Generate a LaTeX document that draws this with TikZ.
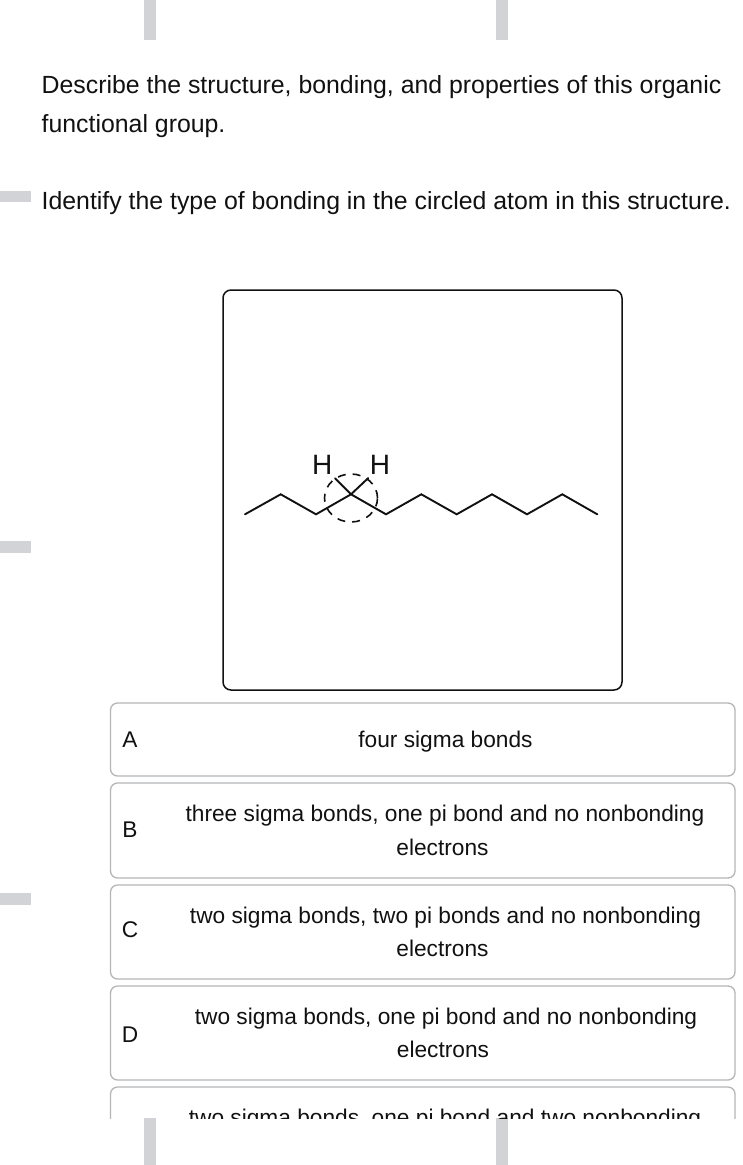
\documentclass[tikz,border=0pt]{standalone}
\usepackage{fontspec}
\usetikzlibrary{shapes.geometric}
\setmainfont{Liberation Sans}
\definecolor{barg}{HTML}{D1D3D6}
\definecolor{optb}{HTML}{B4B6B8}
\definecolor{txt}{HTML}{111111}
\tikzset{
  x=1pt,y=-1pt,
  bar/.style={fill=barg,draw=none},
  qtext/.style={anchor=base west,inner sep=0pt,text=txt,font=\fontsize{24.85}{30}\selectfont},
  opt/.style={draw=optb,line width=1.3pt,rounded corners=7pt},
  otext/.style={anchor=base,inner sep=0pt,text=txt,font=\fontsize{22.7}{26}\selectfont},
  bond/.style={line width=1.9pt,draw=txt,line cap=round,line join=miter},
  atom/.style={inner sep=0pt,text=txt,font=\fontsize{28}{30}\selectfont},
}
\begin{document}
\begin{tikzpicture}
\useasboundingbox (0,0) rectangle (743,1165);
\fill[white] (0,0) rectangle (743,1165);
% side bars
\fill[bar] (144,0) rectangle (156,40);
\fill[bar] (496,0) rectangle (508,40);
\fill[bar] (144,1118) rectangle (156,1165);
\fill[bar] (496,1118) rectangle (508,1165);
\fill[bar] (0,191) rectangle (31,202);
\fill[bar] (0,541) rectangle (31,553);
\fill[bar] (0,893) rectangle (31,905);
% question text
\node[qtext] (q1) at (41.5,93) {Describe the structure, bonding, and properties of this organic};
\node[qtext] (q2) at (41.5,132) {functional group.};
\node[qtext] (q3) at (41.5,209) {Identify the type of bonding in the circled atom in this structure.};
% frame
\draw[line width=1.5pt,draw=txt,rounded corners=8pt] (223,290) rectangle (622,690);
% molecule
\foreach \n/\x/\y in {c1/245/514.3,c2/280.7/494.3,c3/316/514.3,c4/351/494.3,c5/386/514.3,c6/421.3/494.3,c7/456.7/514.3,c8/492/494.3,c9/527/514.3,c10/562.3/494.3,c11/597.3/514.3,h1/335/478.3,h2/368.3/478}
  \coordinate (\n) at (\x,\y);
\draw[bond] (c1)--(c2)--(c3)--(c4)--(c5)--(c6)--(c7)--(c8)--(c9)--(c10)--(c11);
\draw[bond] (c4)--(h1);
\draw[bond] (c4)--(h2);
\node[atom] (hl) at (322.3,465) {H};
\node[atom] (hr) at (380,465) {H};
\node[draw=txt,line width=1.6pt,dash pattern=on 8pt off 7pt,ellipse,minimum width=53pt,minimum height=48pt,inner sep=0pt] (ring) at (351,498) {};
% options
\draw[opt] (110.5,703) rectangle (735,776);
\draw[opt] (110.5,783) rectangle (735,878);
\draw[opt] (110.5,885) rectangle (735,979);
\draw[opt] (110.5,986) rectangle (735,1080);
\node[otext] (la) at (130,747.5) {A};
\node[otext] (lb) at (130,837) {B};
\node[otext] (lc) at (130,937.5) {C};
\node[otext] (ld) at (130,1042.5) {D};
\node[otext] (ta) at (445.5,747.5) {four sigma bonds};
\node[otext] (tb1) at (445,821) {three sigma bonds, one pi bond and no nonbonding};
\node[otext] (tb2) at (442.5,855) {electrons};
\node[otext] (tc1) at (445.5,923) {two sigma bonds, two pi bonds and no nonbonding};
\node[otext] (tc2) at (442.5,956.5) {electrons};
\node[otext] (td1) at (446,1024) {two sigma bonds, one pi bond and no nonbonding};
\node[otext] (td2) at (443,1057.5) {electrons};
\begin{scope}
\clip (100,1082) rectangle (743,1118);
\draw[opt] (110.5,1087) rectangle (735,1180);
\node[otext] (te) at (445,1125.5) {two sigma bonds, one pi bond and two nonbonding};
\end{scope}
\end{tikzpicture}
\end{document}
